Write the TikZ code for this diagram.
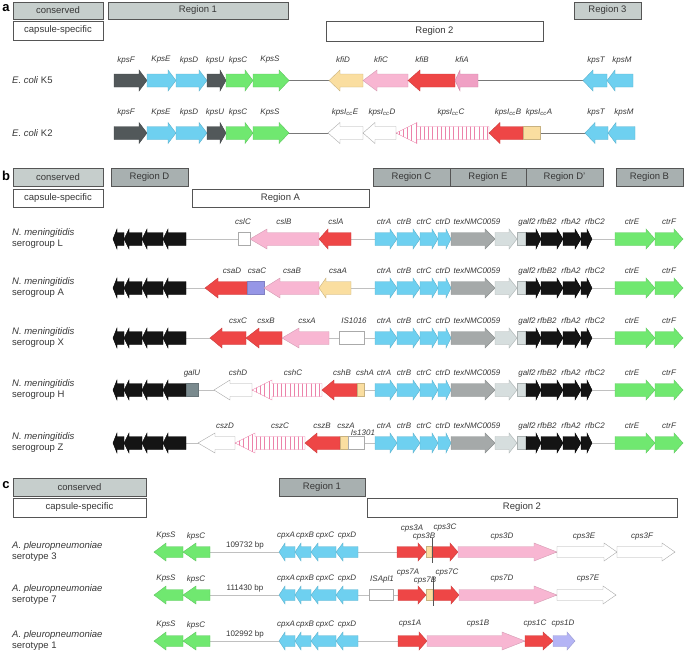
\documentclass[tikz,border=0pt]{standalone}
\usepackage{fontspec}
\setmainfont{Liberation Sans}
\usetikzlibrary{patterns.meta}

\definecolor{txtC}{RGB}{55,55,55}
\definecolor{boxC}{RGB}{85,85,85}
\definecolor{consC}{RGB}{198,206,204}
\definecolor{regC}{RGB}{168,176,176}
\definecolor{darkG}{RGB}{82,88,90}
\definecolor{blueG}{RGB}{110,208,240}
\definecolor{greenG}{RGB}{112,232,112}
\definecolor{beigeG}{RGB}{250,222,160}
\definecolor{pinkG}{RGB}{248,182,210}
\definecolor{pinkdG}{RGB}{240,160,196}
\definecolor{redG}{RGB}{238,70,70}
\definecolor{lavG}{RGB}{150,150,230}
\definecolor{lavlG}{RGB}{180,180,245}
\definecolor{greyG}{RGB}{165,169,169}
\definecolor{lgreyG}{RGB}{214,222,222}
\definecolor{blackG}{RGB}{20,20,20}
\definecolor{galuG}{RGB}{122,138,142}
\definecolor{wlineC}{RGB}{170,170,170}
\definecolor{stripeC}{RGB}{236,130,170}
\definecolor{lineA}{RGB}{120,120,120}
\definecolor{lineB}{RGB}{192,192,192}

\tikzset{
	plab/.style={font=\bfseries\fontsize{13}{13}\selectfont, inner sep=0pt},
	glab/.style={font=\itshape\fontsize{8}{9}\selectfont, text=txtC, inner sep=0pt},
	bplab/.style={font=\fontsize{8}{9}\selectfont, text=txtC, inner sep=0pt},
	org/.style={font=\fontsize{9.5}{11}\selectfont, text=txtC, anchor=west, align=left, inner sep=0pt},
	cbox/.style={draw=boxC, line width=0.6pt, fill=consC, text=txtC, font=\fontsize{9.5}{10}\selectfont, inner sep=0pt},
	sbox/.style={cbox, fill=white},
	rbox/.style={cbox, fill=regC},
	bbone/.style={draw=lineA, line width=0.7pt},
	bbtwo/.style={draw=lineB, line width=0.8pt},
	gbase/.style={line width=0.4pt, line join=miter},
	gdark/.style={gbase, fill=darkG, draw=darkG!80!black},
	gblue/.style={gbase, fill=blueG, draw=blueG!85!black},
	ggreen/.style={gbase, fill=greenG, draw=greenG!85!black},
	gbeige/.style={gbase, fill=beigeG, draw=beigeG!80!black},
	gpink/.style={gbase, fill=pinkG, draw=pinkG!85!black},
	gpinkd/.style={gbase, fill=pinkdG, draw=pinkdG!85!black},
	gred/.style={gbase, fill=redG, draw=redG!85!black},
	glav/.style={gbase, fill=lavG, draw=lavG!85!black},
	glavl/.style={gbase, fill=lavlG, draw=lavlG!85!black},
	ggrey/.style={gbase, fill=greyG, draw=greyG!85!black},
	glgrey/.style={gbase, fill=lgreyG, draw=lgreyG!80!black},
	gblack/.style={gbase, fill=blackG, draw=black},
	ggalu/.style={gbase, fill=galuG, draw=galuG!85!black},
	gwhite/.style={gbase, fill=white, draw=wlineC},
	gstripe/.style={gbase, fill=white, draw=stripeC, postaction={pattern={Lines[angle=90, distance=4.2pt, line width=0.6pt]}, pattern color=stripeC}},
	tick/.style={draw=boxC, line width=0.4pt}
}

% gene arrow: style, y, tail x, tip x, head length
\newcommand{\gene}[5]{%
	\pgfmathsetmacro{\hbx}{(#4>#3)?(#4-(#5)):(#4+(#5))}%
	\draw[#1] (#3,#2-\gbh) -- (\hbx,#2-\gbh) -- (\hbx,#2-\ghh) -- (#4,#2) -- (\hbx,#2+\ghh) -- (\hbx,#2+\gbh) -- (#3,#2+\gbh) -- cycle;}
% gene without head
\newcommand{\rgene}[4]{\draw[#1] (#3,#2-\gbh) rectangle (#4,#2+\gbh);}

\begin{document}
\begin{tikzpicture}[x=1pt,y=-1pt]
	\useasboundingbox (0,0) rectangle (685,654);
	% ---------- a ----------
	\node[plab] (pa) at (6,8) {a};
	\node[cbox, minimum width=90, minimum height=17] (consa) at (58,10.5) {conserved};
	\node[sbox, minimum width=90, minimum height=19] (capsa) at (58,30.5) {capsule-specific};
	\node[cbox, minimum width=180, minimum height=17] (reg1a) at (198,10.5) {Region 1};
	\node[cbox, minimum width=67, minimum height=17] (reg3a) at (607.5,10.5) {Region 3};
	\node[sbox, minimum width=217, minimum height=20] (reg2a) at (434.5,31) {Region 2};
	\def\gbh{6.5}\def\ghh{10.5}
	\def\ya{80.5}\def\yb{133}
	\node[org] (k5) at (12,\ya) {\textit{E. coli} K5};
	\node[org] (k2) at (12,\yb) {\textit{E. coli} K2};
	\draw[bbone] (114,\ya) -- (633,\ya);
	\draw[bbone] (114,\yb) -- (635,\yb);
	\foreach \y in {\ya,\yb} {
		\gene{gdark}{\y}{114}{147}{8}
		\gene{gblue}{\y}{147}{176}{8}
		\gene{gblue}{\y}{176}{207}{8}
		\gene{gdark}{\y}{207}{226}{6}
		\gene{ggreen}{\y}{226}{253}{8}
		\gene{ggreen}{\y}{253}{289}{10}
		\node[glab] (kpsF-\y) at (126,\y-20.5) {kpsF};
		\node[glab] (kpsE-\y) at (161,\y-20.5) {KpsE};
		\node[glab] (kpsD-\y) at (189,\y-20.5) {kpsD};
		\node[glab] (kpsU-\y) at (215,\y-20.5) {kpsU};
		\node[glab] (kpsC-\y) at (238,\y-20.5) {kpsC};
		\node[glab] (kpsS-\y) at (270,\y-20.5) {KpsS};
	}
	\gene{gbeige}{\ya}{363}{329}{11}
	\gene{gpink}{\ya}{408}{363}{14}
	\gene{gred}{\ya}{455}{408}{12}
	\gene{gpinkd}{\ya}{478}{455}{5}
	\gene{gblue}{\ya}{607}{583}{10}
	\gene{gblue}{\ya}{633}{607}{8}
	\node[glab] (kfiD) at (343,\ya-20.5) {kfiD};
	\node[glab] (kfiC) at (381,\ya-20.5) {kfiC};
	\node[glab] (kfiB) at (422,\ya-20.5) {kfiB};
	\node[glab] (kfiA) at (462,\ya-20.5) {kfiA};
	\node[glab] (kpsT5) at (596,\ya-20.5) {kpsT};
	\node[glab] (kpsM5) at (622,\ya-20.5) {kpsM};
	\gene{gwhite}{\yb}{363}{328}{12}
	\gene{gwhite}{\yb}{396}{363}{12}
	\gene{gstripe}{\yb}{489}{396}{21}
	\gene{gred}{\yb}{523}{489}{11}
	\rgene{gbeige}{\yb}{523}{540}
	\gene{gblue}{\yb}{608}{585}{10}
	\gene{gblue}{\yb}{635}{608}{8}
	\node[glab] (kpsIE) at (345,\yb-20.5) {kpsI\textsubscript{cc}E};
	\node[glab] (kpsID) at (382,\yb-20.5) {kpsI\textsubscript{cc}D};
	\node[glab] (kpsIC) at (451,\yb-20.5) {kpsI\textsubscript{cc}C};
	\node[glab] (kpsIB) at (508,\yb-20.5) {kpsI\textsubscript{cc}B};
	\node[glab] (kpsIA) at (539,\yb-20.5) {kpsI\textsubscript{cc}A};
	\node[glab] (kpsT2) at (596,\yb-20.5) {kpsT};
	\node[glab] (kpsM2) at (624,\yb-20.5) {kpsM};
	% ---------- b ----------
	\node[plab] (pb) at (6,176) {b};
	\node[cbox, minimum width=90, minimum height=18] (consb) at (58,177) {conserved};
	\node[sbox, minimum width=90, minimum height=18] (capsb) at (58,198) {capsule-specific};
	\node[rbox, minimum width=77, minimum height=18] (regDb) at (149.5,177) {Region D};
	\node[sbox, minimum width=177, minimum height=18] (regAb) at (280.5,198) {Region A};
	\node[rbox, minimum width=77, minimum height=18] (regCb) at (411.5,177) {Region C};
	\node[rbox, minimum width=76, minimum height=18] (regEb) at (488,177) {Region E};
	\node[rbox, minimum width=77, minimum height=18] (regDDb) at (564.5,177) {Region D'};
	\node[rbox, minimum width=67, minimum height=18] (regBb) at (649.5,177) {Region B};
	\def\gbh{6.5}\def\ghh{10}
	\foreach \y/\s in {239/L,288/A,338/X,390/H,443/Z} {
		\node[org] (nm\s) at (12,\y) {\textit{N. meningitidis}\\serogroup \s};
		\draw[bbtwo] (113,\y) -- (683,\y);
		\gene{gblack}{\y}{124}{113}{4}
		\gene{gblack}{\y}{142}{124}{5}
		\gene{gblack}{\y}{163}{142}{5}
		\gene{gblack}{\y}{186}{163}{5}
		\gene{gblue}{\y}{375}{397}{7}
		\gene{gblue}{\y}{397}{420}{7}
		\gene{gblue}{\y}{420}{438}{6}
		\gene{gblue}{\y}{438}{451}{5}
		\gene{ggrey}{\y}{451}{495}{10}
		\gene{glgrey}{\y}{495}{517}{8}
		\rgene{glgrey}{\y}{517}{526}
		\gene{gblack}{\y}{526}{541}{5}
		\gene{gblack}{\y}{541}{563}{6}
		\gene{gblack}{\y}{563}{581}{6}
		\gene{gblack}{\y}{581}{592}{5}
		\gene{ggreen}{\y}{615}{655}{9}
		\gene{ggreen}{\y}{655}{683}{9}
		\node[glab] (ctrA\s) at (384,\y-17) {ctrA};
		\node[glab] (ctrB\s) at (404,\y-17) {ctrB};
		\node[glab] (ctrC\s) at (424,\y-17) {ctrC};
		\node[glab] (ctrD\s) at (443,\y-17) {ctrD};
		\node[glab] (tex\s) at (477,\y-17) {texNMC0059};
		\node[glab] (galf\s) at (527,\y-17) {galf2};
		\node[glab] (rfbB\s) at (547,\y-17) {rfbB2};
		\node[glab] (rfbA\s) at (571,\y-17) {rfbA2};
		\node[glab] (rfbC\s) at (595,\y-17) {rfbC2};
		\node[glab] (ctrE\s) at (632,\y-17) {ctrE};
		\node[glab] (ctrF\s) at (669,\y-17) {ctrF};
	}
	% serogroup L
	\rgene{gwhite}{239}{238}{250}
	\gene{gpink}{239}{319}{250}{17}
	\gene{gred}{239}{351}{319}{9}
	\node[glab] (cslC) at (243,222) {cslC};
	\node[glab] (cslB) at (284,222) {cslB};
	\node[glab] (cslA) at (336,222) {cslA};
	% serogroup A
	\gene{gred}{288}{247}{205}{13}
	\rgene{glav}{288}{247}{264}
	\gene{gpink}{288}{319}{264}{16}
	\gene{gbeige}{288}{351}{319}{7}
	\node[glab] (csaD) at (232,271) {csaD};
	\node[glab] (csaC) at (257,271) {csaC};
	\node[glab] (csaB) at (292,271) {csaB};
	\node[glab] (csaA) at (338,271) {csaA};
	% serogroup X
	\gene{gred}{338}{246}{210}{12}
	\gene{gred}{338}{282}{246}{13}
	\gene{gpink}{338}{329}{282}{17}
	\rgene{gwhite}{338}{339}{364}
	\node[glab] (csxC) at (238,321) {csxC};
	\node[glab] (csxB) at (266,321) {csxB};
	\node[glab] (csxA) at (307,321) {csxA};
	\node[glab] (is1016) at (354,321) {IS1016};
	% serogroup H
	\rgene{ggalu}{390}{186}{198}
	\gene{gwhite}{390}{252}{214}{16}
	\gene{gstripe}{390}{322}{252}{20}
	\gene{gred}{390}{357}{322}{12}
	\rgene{gbeige}{390}{357}{364}
	\node[glab] (galU) at (192,373) {galU};
	\node[glab] (cshD) at (238,373) {cshD};
	\node[glab] (cshC) at (293,373) {cshC};
	\node[glab] (cshB) at (342,373) {cshB};
	\node[glab] (cshA) at (365,373) {cshA};
	% serogroup Z
	\gene{gwhite}{443}{235}{198}{17}
	\gene{gstripe}{443}{305}{235}{20}
	\gene{gred}{443}{340}{305}{12}
	\rgene{gbeige}{443}{340}{348}
	\rgene{gwhite}{443}{348}{364}
	\node[glab] (cszD) at (225,426) {cszD};
	\node[glab] (cszC) at (280,426) {cszC};
	\node[glab] (cszB) at (322,426) {cszB};
	\node[glab] (cszA) at (346,426) {cszA};
	\node[glab] (is1301) at (363,433) {Is1301};
	% ---------- c ----------
	\node[plab] (pc) at (6,485) {c};
	\node[cbox, minimum width=133, minimum height=18] (consc) at (79.5,487) {conserved};
	\node[sbox, minimum width=133, minimum height=19] (capsc) at (79.5,507.5) {capsule-specific};
	\node[rbox, minimum width=86, minimum height=18] (reg1c) at (322,487) {Region 1};
	\node[sbox, minimum width=310, minimum height=19] (reg2c) at (522,507.5) {Region 2};
	\def\gbh{5.5}\def\ghh{9}
	\draw[bbtwo] (154,552) -- (675,552);
	\draw[bbtwo] (154,595) -- (616,595);
	\draw[bbtwo] (154,641) -- (575,641);
	\foreach \y/\s/\bp in {552/3/109732,595/7/111430,641/1/102992} {
		\node[org] (ap\s) at (12,\y) {\textit{A. pleuropneumoniae}\\serotype \s};
		\gene{ggreen}{\y}{183}{154}{12}
		\gene{ggreen}{\y}{210}{183}{13}
		\gene{gblue}{\y}{295}{279}{6}
		\gene{gblue}{\y}{311}{295}{6}
		\gene{gblue}{\y}{336}{311}{7}
		\gene{gblue}{\y}{358}{336}{7}
		\node[bplab] (bp\s) at (245,\y-7) {\bp{} bp};
		\node[glab] (kpsS\s) at (166,\y-16) {KpsS};
		\node[glab] (kpsC\s) at (196,\y-16) {kpsC};
		\node[glab] (cpxA\s) at (286,\y-16) {cpxA};
		\node[glab] (cpxB\s) at (305,\y-16) {cpxB};
		\node[glab] (cpxC\s) at (325,\y-16) {cpxC};
		\node[glab] (cpxD\s) at (347,\y-16) {cpxD};
	}
	% serotype 3
	\gene{gred}{552}{397}{426}{8}
	\rgene{gbeige}{552}{426}{432}
	\gene{gred}{552}{432}{458}{8}
	\gene{gpink}{552}{458}{557}{23}
	\gene{gwhite}{552}{557}{617}{13}
	\gene{gwhite}{552}{617}{675}{13}
	\draw[tick] (432,538) -- (432,563);
	\node[glab] (cps3A) at (412,529) {cps3A};
	\node[glab] (cps3B) at (424,537) {cps3B};
	\node[glab] (cps3C) at (445,528) {cps3C};
	\node[glab] (cps3D) at (502,537) {cps3D};
	\node[glab] (cps3E) at (584,537) {cps3E};
	\node[glab] (cps3F) at (642,537) {cps3F};
	% serotype 7
	\rgene{gwhite}{595}{369}{393}
	\gene{gred}{595}{398}{426}{8}
	\rgene{gbeige}{595}{426}{433}
	\gene{gred}{595}{433}{459}{8}
	\gene{gpink}{595}{459}{557}{23}
	\gene{gwhite}{595}{557}{616}{13}
	\draw[tick] (433,577) -- (433,606);
	\node[glab] (isapl) at (382,579) {ISApl1};
	\node[glab] (cps7A) at (408,573) {cps7A};
	\node[glab] (cps7B) at (425,581) {cps7B};
	\node[glab] (cps7C) at (447,573) {cps7C};
	\node[glab] (cps7D) at (502,579) {cps7D};
	\node[glab] (cps7E) at (588,579) {cps7E};
	% serotype 1
	\gene{gred}{641}{398}{427}{8}
	\gene{gpink}{641}{427}{525}{23}
	\gene{gred}{641}{525}{553}{10}
	\gene{glavl}{641}{553}{575}{8}
	\node[glab] (cps1A) at (410,624) {cps1A};
	\node[glab] (cps1B) at (478,624) {cps1B};
	\node[glab] (cps1C) at (535,624) {cps1C};
	\node[glab] (cps1D) at (563,624) {cps1D};
\end{tikzpicture}
\end{document}
